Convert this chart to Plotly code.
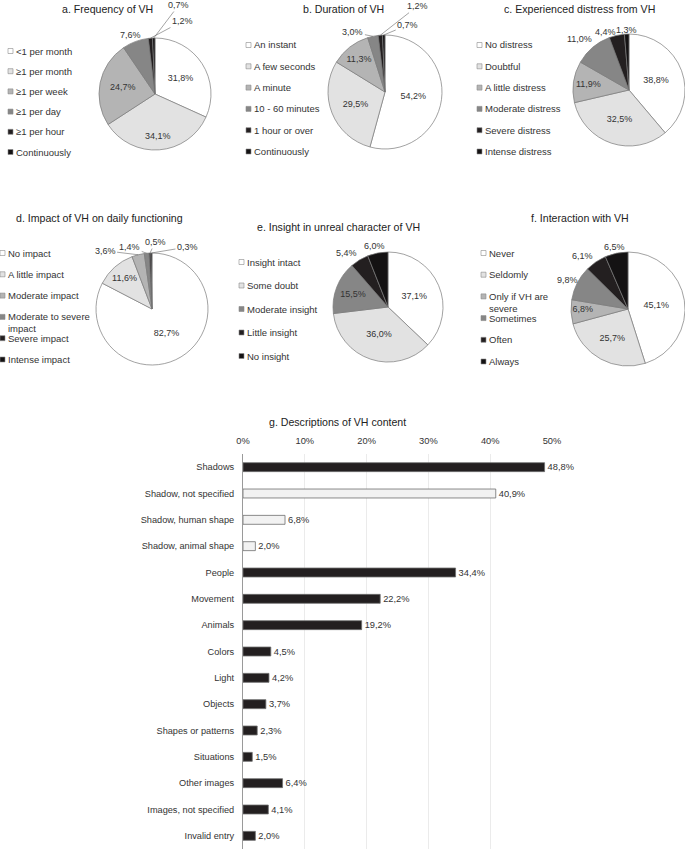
import math
import plotly.graph_objects as go

W, H = 685, 849
FONT = "Liberation Sans, Arial, sans-serif"
TXT = "#333333"

# ---------------- data ----------------
a_labels = ["<1 per month", "≥1 per month", "≥1 per week", "≥1 per day", "≥1 per hour", "Continuously"]
a_values = [31.8, 34.1, 24.7, 7.6, 1.2, 0.7]

b_labels = ["An instant", "A few seconds", "A minute", "10 - 60 minutes", "1 hour or over", "Continuously"]
b_values = [54.2, 29.5, 11.3, 3.0, 1.2, 0.7]

c_labels = ["No distress", "Doubtful", "A little distress", "Moderate distress", "Severe distress", "Intense distress"]
c_values = [38.8, 32.5, 11.9, 11.0, 4.4, 1.3]

d_labels = ["No impact", "A little impact", "Moderate impact", "Moderate to severe<br>impact", "Severe impact", "Intense impact"]
d_values = [82.7, 11.6, 3.6, 1.4, 0.5, 0.3]

e_labels = ["Insight intact", "Some doubt", "Moderate insight", "Little insight", "No insight"]
e_values = [37.1, 36.0, 15.5, 5.4, 6.0]

f_labels = ["Never", "Seldomly", "Only if VH are<br>severe", "Sometimes", "Often", "Always"]
f_values = [45.1, 25.7, 6.8, 9.8, 6.1, 6.5]

g_categories = ["Shadows", "Shadow, not specified", "Shadow, human shape", "Shadow, animal shape",
                "People", "Movement", "Animals", "Colors", "Light", "Objects",
                "Shapes or patterns", "Situations", "Other images", "Images, not specified",
                "Invalid entry"]
g_values = [48.8, 40.9, 6.8, 2.0, 34.4, 22.2, 19.2, 4.5, 4.2, 3.7, 2.3, 1.5, 6.4, 4.1, 2.0]
g_ticks = [0, 10, 20, 30, 40, 50]

titles = ["a. Frequency of VH", "b. Duration of VH", "c. Experienced distress from VH",
          "d. Impact of VH on daily functioning", "e. Insight in unreal character of VH",
          "f. Interaction with VH", "g. Descriptions of VH content"]

# ---------------- style / layout ----------------
WHITE, LIGHT, MID, DARK, BLK1, BLK2 = "#ffffff", "#e2e2e2", "#b4b4b4", "#868686", "#231f20", "#141213"


def fx(px):
    return px / W


def fy(py):
    return 1 - py / H


def fmt(v):
    return f"{v:.1f}".replace(".", ",") + "%"


# label placement for some slices: slice index -> (dx, dy, leader line) in px,
# relative to the slice's outer-edge mid point (computed from the values)
pies = [
    dict(labels=a_labels, values=a_values, colors=[WHITE, LIGHT, MID, DARK, BLK1, BLK2],
         center=(155, 94), r=56, legend=(8, 50, 20.2),
         placed={1: (-1, -14, False), 3: (-5, -6.5, False), 4: (32, -17, True), 5: (25, -33, True)}),
    dict(labels=b_labels, values=b_values, colors=[WHITE, LIGHT, MID, DARK, BLK1, BLK2],
         center=(385, 92), r=57, legend=(246, 44, 21.3),
         placed={3: (-20, -4, True), 4: (37, -29, True), 5: (24, -10, True)}),
    dict(labels=c_labels, values=c_values, colors=[WHITE, LIGHT, MID, DARK, BLK1, BLK2],
         center=(629, 90), r=56, legend=(477, 44, 21.3),
         placed={3: (-13, -8, False), 4: (-11, -3, False), 5: (0, -4, False)}),
    dict(labels=d_labels, values=d_values, colors=[WHITE, LIGHT, MID, DARK, BLK1, BLK2],
         center=(152, 309), r=56, legend=(0, 252, 21.3),
         placed={2: (-33, -4, True), 3: (-17, -6, True), 4: (5, -11, True), 5: (36, -6, True)}),
    dict(labels=e_labels, values=e_values, colors=[WHITE, LIGHT, DARK, BLK1, BLK2],
         center=(388, 307), r=55, legend=(239, 261, 23.5),
         placed={3: (-13, -7, False), 4: (-3, -7, False)}),
    dict(labels=f_labels, values=f_values, colors=[WHITE, LIGHT, MID, DARK, BLK1, BLK2],
         center=(628, 309), r=57, legend=(481, 252, 21.7),
         placed={3: (-10, -3, False), 4: (-13, -6, False), 5: (-2, -6, False)}),
]

fig = go.Figure()
shapes = []
annotations = []
BOX = 5
for p in pies:
    labels, values, colors = p["labels"], p["values"], p["colors"]
    cx, cy = p["center"]
    r = p["r"]
    tpos = ["none" if i in p["placed"] else "inside" for i in range(len(values))]
    fig.add_trace(go.Pie(
        labels=labels, values=values, sort=False, direction="clockwise", rotation=0,
        marker=dict(colors=colors, line=dict(color="#7a7a7a", width=0.7)),
        text=[fmt(v) for v in values], textinfo="text", textposition=tpos,
        insidetextorientation="horizontal",
        insidetextfont=dict(family=FONT, size=9, color=TXT),
        domain=dict(x=[fx(cx - r), fx(cx + r)], y=[fy(cy + r), fy(cy - r)]),
        showlegend=False, hoverinfo="label+text",
    ))
    # labels anchored on the slice mid-angle
    total = sum(values)
    cum = 0.0
    for i, v in enumerate(values):
        theta = 2 * math.pi * (cum + v / 2) / total
        cum += v
        if i not in p["placed"]:
            continue
        dx, dy, line = p["placed"][i]
        ex, ey = cx + r * math.sin(theta), cy - r * math.cos(theta)
        ann = dict(text=fmt(v), x=fx(ex), y=fy(ey), xref="paper", yref="paper",
                   font=dict(family=FONT, size=9, color=TXT))
        if line:
            ann.update(showarrow=True, ax=dx, ay=dy, arrowhead=0, arrowwidth=0.6,
                       arrowcolor="#666666", standoff=0, startstandoff=0)
        else:
            ann.update(showarrow=False, xshift=dx, yshift=-dy, xanchor="center", yanchor="middle")
        annotations.append(ann)
    # legend entries (swatch + label) built from the same label / colour lists
    bx, by, step = p["legend"]
    for i, (lab, col) in enumerate(zip(labels, colors)):
        yc = by + i * step
        shapes.append(dict(type="rect", xref="paper", yref="paper",
                           x0=fx(bx), x1=fx(bx + BOX), y0=fy(yc + BOX / 2 + 1), y1=fy(yc - BOX / 2 + 1),
                           fillcolor=col, line=dict(color="#8a8a8a", width=0.6)))
        annotations.append(dict(text=lab, x=fx(bx + BOX + 1), y=fy(yc - 6.5), xref="paper", yref="paper",
                                xanchor="left", yanchor="top", align="left", showarrow=False,
                                font=dict(family=FONT, size=9.5, color=TXT)))

# bar chart
bar_colors = ["#f2f2f2" if c.startswith("Shadow,") else BLK1 for c in g_categories]
fig.add_trace(go.Bar(
    x=g_values, y=g_categories, orientation="h",
    marker=dict(color=bar_colors, line=dict(color="#6e6e6e", width=0.8)),
    width=0.34, text=[fmt(v) for v in g_values], textposition="outside", constraintext="none",
    textfont=dict(family=FONT, size=9.3, color=TXT), cliponaxis=False,
    showlegend=False, xaxis="x", yaxis="y",
))

title_pos = [(107, 9), (343, 9), (579, 9), (100, 218), (338, 227), (580, 218), (337, 422)]
for t, (px, py) in zip(titles, title_pos):
    annotations.append(dict(text=t, x=fx(px), y=fy(py), xref="paper", yref="paper",
                            xanchor="center", yanchor="middle", showarrow=False,
                            font=dict(family=FONT, size=10.6, color="#222222")))

fig.update_layout(
    width=W, height=H, autosize=False,
    margin=dict(l=0, r=0, t=0, b=0, pad=0, autoexpand=False),
    paper_bgcolor="white", plot_bgcolor="white",
    font=dict(family=FONT, size=9.5, color=TXT),
    annotations=annotations, shapes=shapes,
    showlegend=False,
    xaxis=dict(domain=[fx(243), fx(552)], range=[0, 50], side="top",
               tickmode="array", tickvals=g_ticks, ticktext=[f"{t}%" for t in g_ticks],
               showgrid=True, gridcolor="#ebebeb", gridwidth=1, zeroline=False, showline=False,
               ticks="outside", ticklen=5, tickcolor="rgba(0,0,0,0)",
               tickfont=dict(family=FONT, size=9.3, color=TXT), fixedrange=True),
    yaxis=dict(domain=[0, fy(454)], categoryorder="array", categoryarray=g_categories,
               autorange="reversed", showline=True, linecolor="#9a9a9a", linewidth=1,
               showgrid=False, ticks="outside", ticklen=6, tickcolor="rgba(0,0,0,0)",
               tickfont=dict(family=FONT, size=9.2, color=TXT), fixedrange=True),
    bargap=0.66,
)

fig.write_html("out.html", config={"displayModeBar": False},
               post_script="document.body.style.margin='0';document.body.style.overflow='hidden';")
